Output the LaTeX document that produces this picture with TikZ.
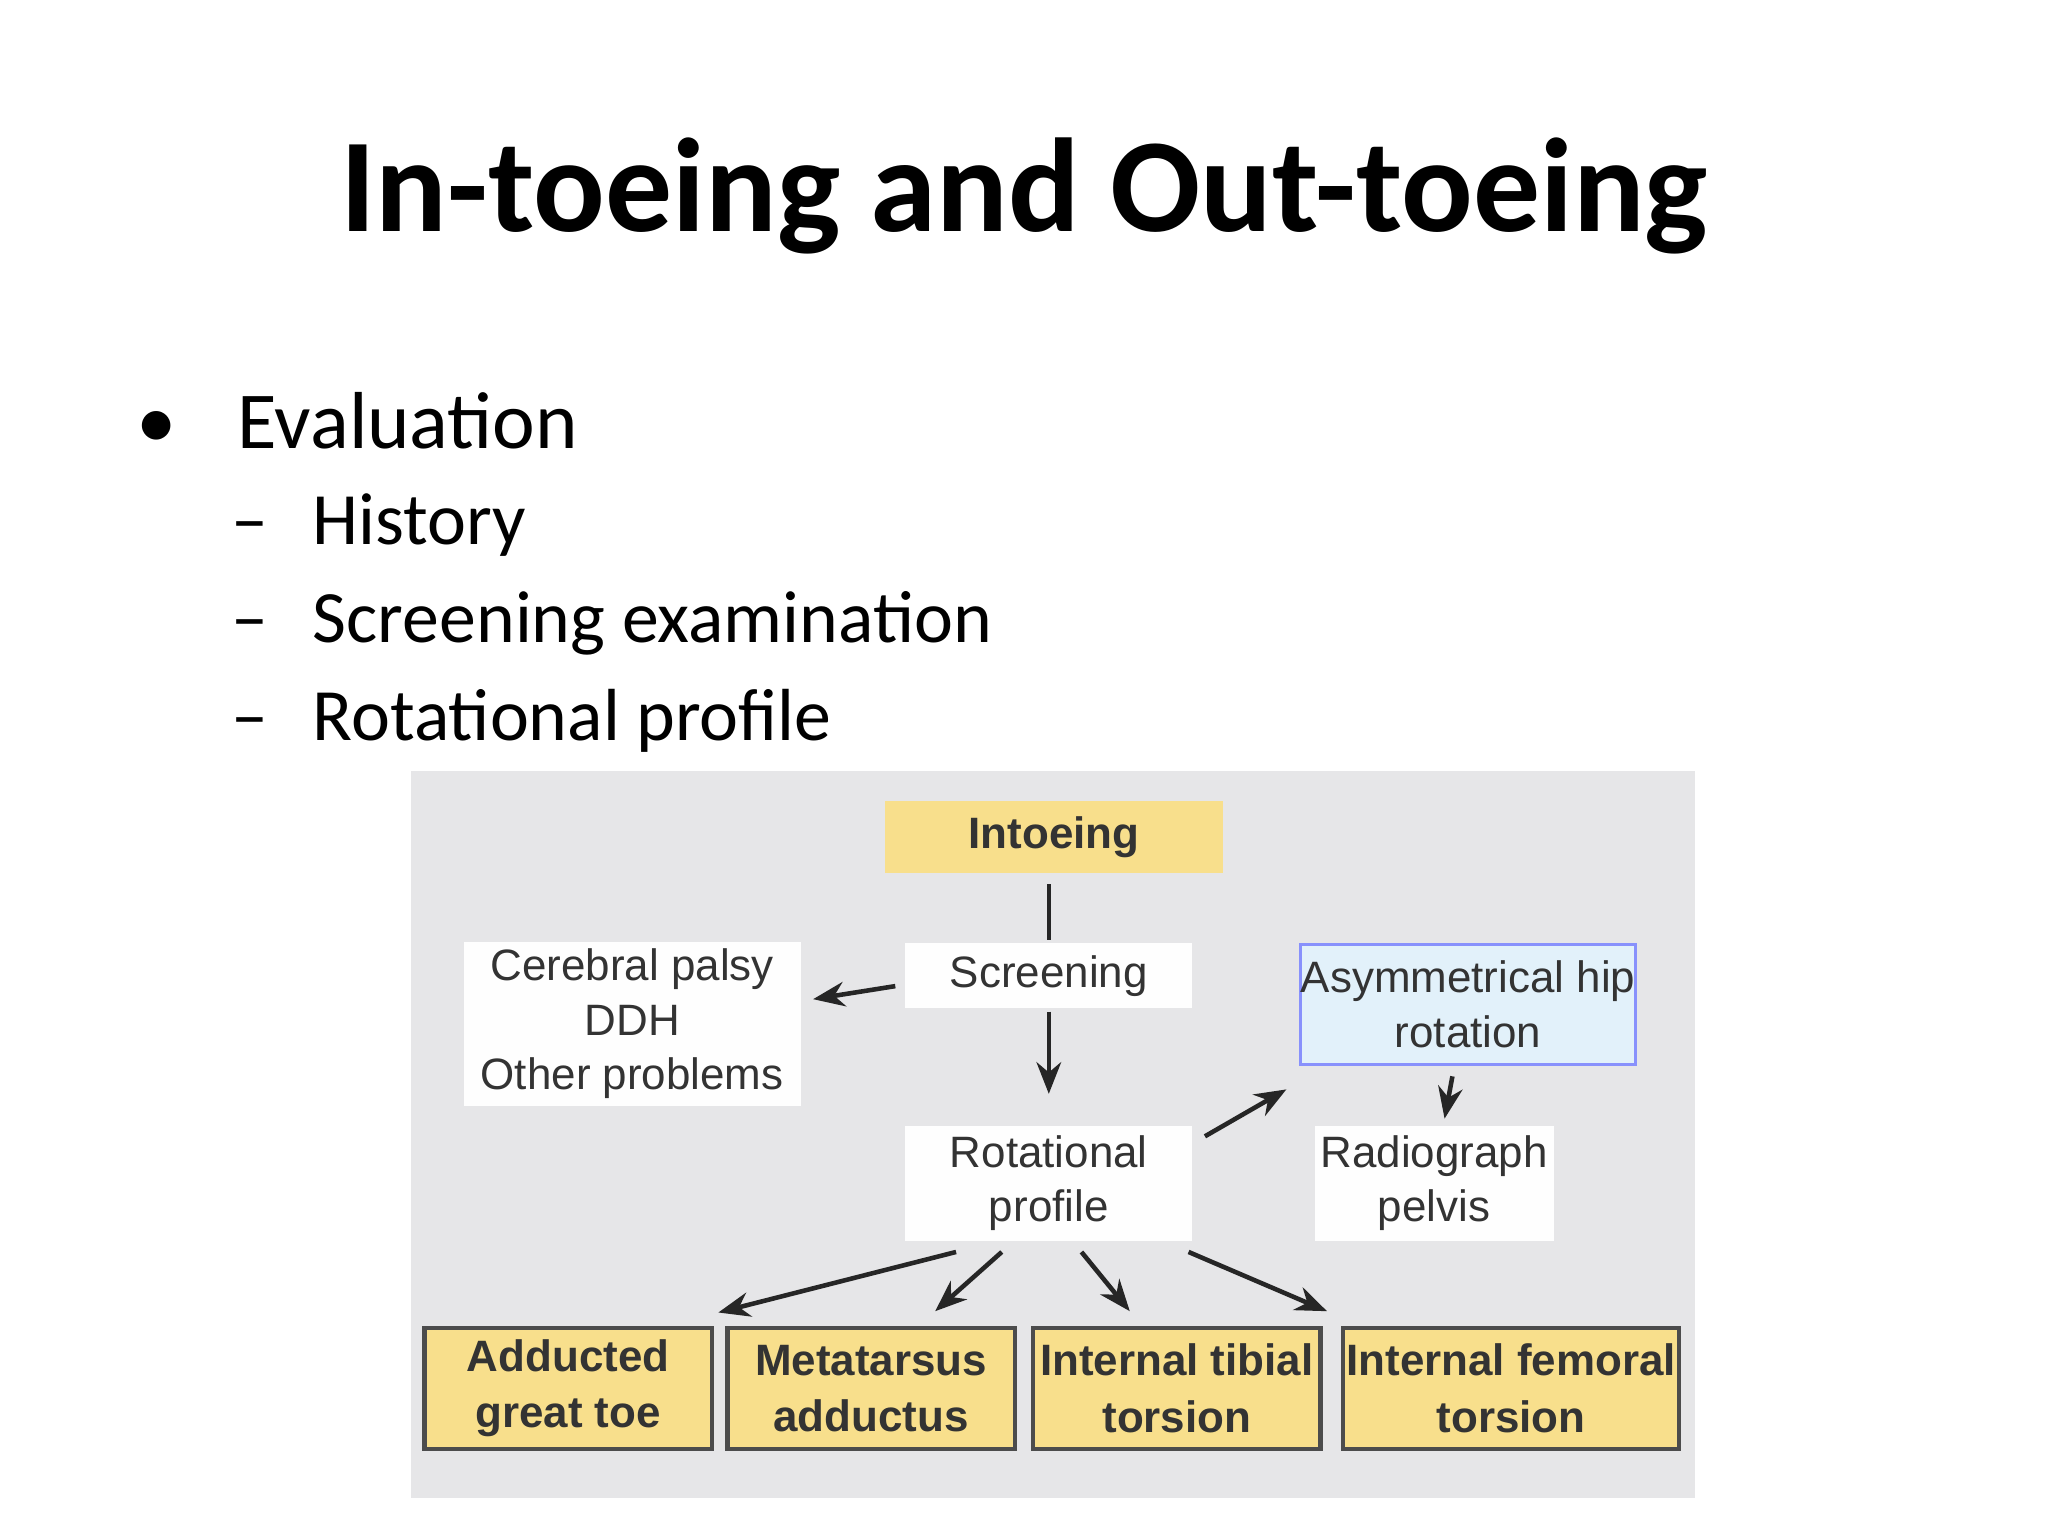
\documentclass[tikz,border=0pt]{standalone}
\usepackage{fontspec}
\setmainfont{Carlito}
\newfontfamily\arial{Liberation Sans}
\usetikzlibrary{arrows.meta,calc}
\definecolor{panel}{HTML}{E6E6E8}
\definecolor{gold}{HTML}{F8DF8C}
\definecolor{sky}{HTML}{E2F1FA}
\begin{document}
\begin{tikzpicture}[x=0.01306cm, y=-0.01306cm,
	box/.style={inner sep=0pt, align=center, font=\arial\fontsize{12.5}{15.5}\selectfont, text=black!80},
	leaf/.style={box, fill=gold, draw=black!70, line width=1.2pt, font=\arial\bfseries\fontsize{12.5}{16}\selectfont},
	arr/.style={-{Stealth[length=9pt,width=7pt]}, line width=1.3pt, black!85}]
			\useasboundingbox (0,0) rectangle (1568,1176);
			\fill[white] (0,0) rectangle (1568,1176);
			% slide text
			\node (title) at (784,150) {\fontsize{38}{44}\selectfont\bfseries In-toeing and Out-toeing};
			\node[anchor=west] (ev) at (95,322) {\fontsize{23}{28}\selectfont\textbullet\hspace{0.75em}Evaluation};
			\node[anchor=west] (hi) at (168,402) {\fontsize{21}{26}\selectfont --\hspace{0.6em}History};
			\node[anchor=west] (se) at (168,477) {\fontsize{21}{26}\selectfont --\hspace{0.6em}Screening examination};
			\node[anchor=west] (ro) at (168,552) {\fontsize{21}{26}\selectfont --\hspace{0.6em}Rotational profile};
			% flow chart panel
			\fill[panel] (315,590) rectangle (1298,1147);
			\node[box, fill=gold, minimum width=259*0.01306cm, minimum height=55*0.01306cm, font=\arial\bfseries\fontsize{12.5}{15}\selectfont] (int) at (807,641) {Intoeing};
			\node[box, fill=white!97!panel, minimum width=220*0.01306cm, minimum height=50*0.01306cm] (scr) at (803,747) {Screening};
			\node[box, fill=white!97!panel, minimum width=258*0.01306cm, minimum height=125*0.01306cm] (cer) at (484,784) {Cerebral palsy\\DDH\\Other problems};
			\node[box, fill=sky, draw=sky!60!blue, line width=0.8pt, minimum width=253*0.01306cm, minimum height=92*0.01306cm] (asy) at (1124,769) {Asymmetrical hip\\rotation};
			\node[box, fill=white!97!panel, minimum width=220*0.01306cm, minimum height=88*0.01306cm] (rot) at (803,906) {Rotational\\profile};
			\node[box, fill=white!97!panel, minimum width=183*0.01306cm, minimum height=88*0.01306cm] (rad) at (1098,906) {Radiograph\\pelvis};
			\node[leaf, minimum width=220*0.01306cm, minimum height=93*0.01306cm] (agt) at (435,1063) {Adducted\\great toe};
			\node[leaf, minimum width=220*0.01306cm, minimum height=93*0.01306cm] (mta) at (667,1063) {Metatarsus\\adductus};
			\node[leaf, minimum width=220*0.01306cm, minimum height=93*0.01306cm] (itt) at (901,1063) {Internal tibial\\torsion};
			\node[leaf, minimum width=257*0.01306cm, minimum height=93*0.01306cm] (ift) at (1157,1063) {Internal femoral\\torsion};
			% connectors
			\draw[line width=1.3pt, black!85] ($(int.south -| scr.north)+(0,8)$) -- ($(scr.north)+(0,-2)$);
			\draw[arr] ($(scr.west)+(-7,8)$) -- ($(cer.east)+(9,-19)$);
			\draw[arr] ($(scr.south)+(0,2)$) -- ($(rot.north)+(0,-24)$);
			\draw[arr] ($(rot.east)+(9,-36)$) -- ($(asy.south west)+(-10,18)$);
			\draw[arr] ($(asy.south)+(-12,8)$) -- ($(rad.north)+(8,-5)$);
			\draw[arr] ($(rot.south)+(-71,8)$) -- ($(agt.north)+(115,-10)$);
			\draw[arr] ($(rot.south)+(-36,8)$) -- ($(mta.north)+(49,-11)$);
			\draw[arr] ($(rot.south)+(25,8)$) -- ($(itt.north)+(-36,-11)$);
			\draw[arr] ($(rot.south)+(107,8)$) -- ($(ift.north)+(-141,-11)$);
\end{tikzpicture}
\end{document}
